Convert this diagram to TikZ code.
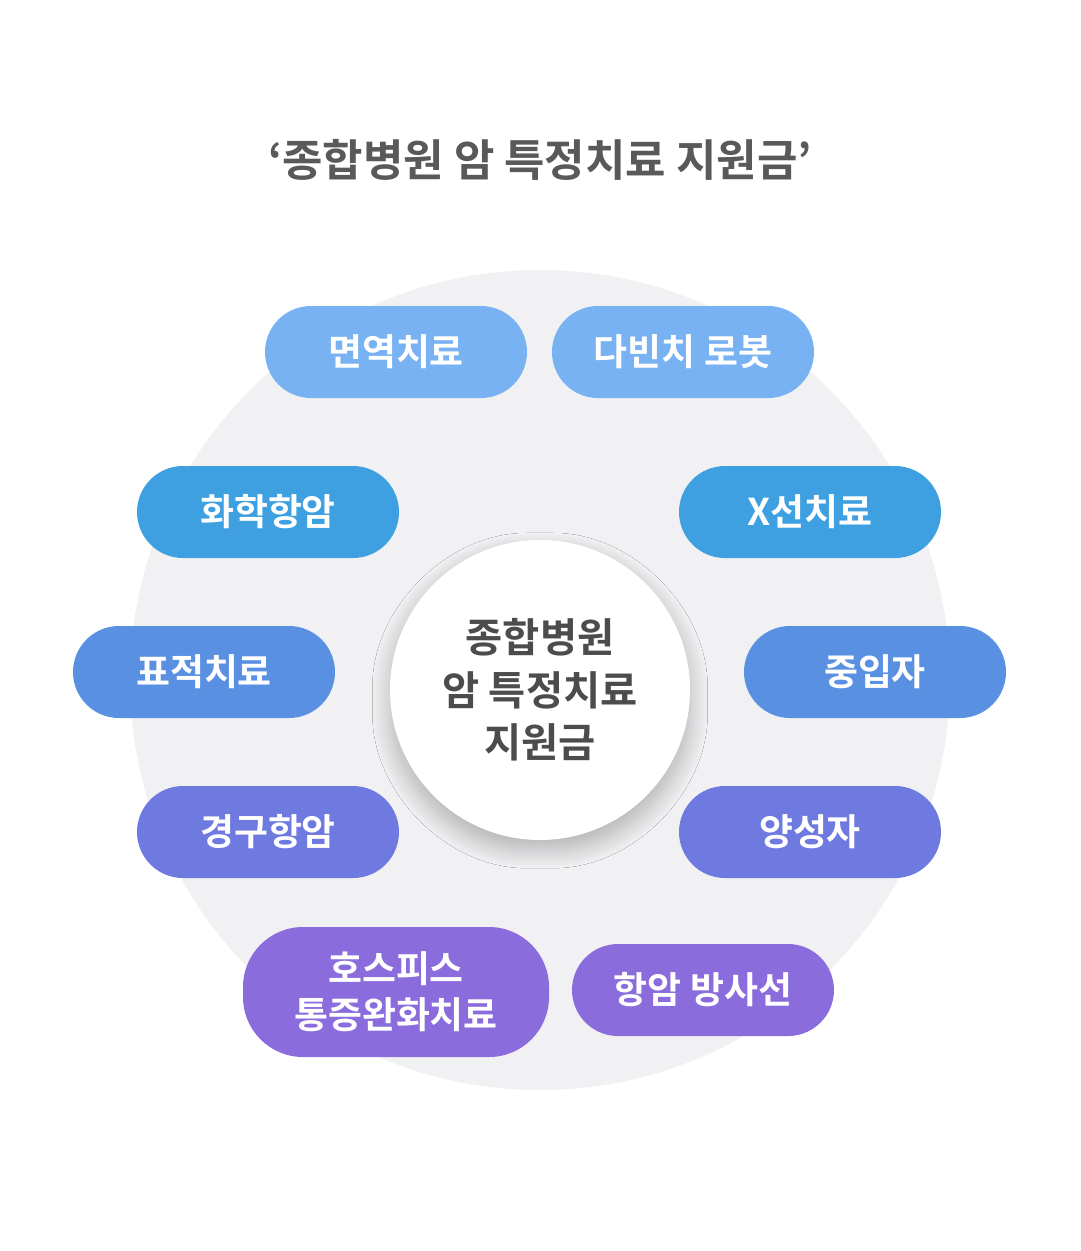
\documentclass[tikz,border=0pt]{standalone}
\usepackage{fontspec}
\newfontfamily\kr{Noto Sans CJK KR Bold}
\usetikzlibrary{shadows.blur}
\definecolor{c1}{HTML}{78B2F2}
\definecolor{c2}{HTML}{3EA0E0}
\definecolor{c3}{HTML}{5A90E2}
\definecolor{c4}{HTML}{6E7ADF}
\definecolor{c5}{HTML}{8A6CDC}
\definecolor{bg}{HTML}{F1F1F3}
\tikzset{pill/.style={rounded corners=46*0.02cm,minimum width=262*0.02cm,minimum height=92*0.02cm,text=white,font=\kr\fontsize{21}{25}\selectfont,align=center,inner sep=0pt}}
\begin{document}
\begin{tikzpicture}[x=0.02cm,y=-0.02cm]
\useasboundingbox[fill=white] (0,0) rectangle (1080,1251);
\node[font=\kr\fontsize{25}{30}\selectfont,text=black!65] (title) at (540,160) {‘종합병원 암 특정치료 지원금’};
\fill[bg] (540,680) circle (410*0.02cm);
\node[circle,fill=white,minimum size=300*0.02cm,blur shadow={shadow blur steps=14,shadow blur extra rounding=8pt,shadow xshift=0pt,shadow yshift=-6pt,shadow opacity=25,shadow blur radius=10pt},align=center,font=\kr\fontsize{23}{30}\selectfont,text=black!70] (center) at (540,690) {종합병원\\암 특정치료\\지원금};
\node[pill,fill=c1] (a) at (396,352) {면역치료};
\node[pill,fill=c1] (b) at (683,352) {다빈치 로봇};
\node[pill,fill=c2] (c) at (268,512) {화학항암};
\node[pill,fill=c2] (d) at (810,512) {X선치료};
\node[pill,fill=c3] (e) at (204,672) {표적치료};
\node[pill,fill=c3] (f) at (875,672) {중입자};
\node[pill,fill=c4] (g) at (268,832) {경구항암};
\node[pill,fill=c4] (h) at (810,832) {양성자};
\node[pill,fill=c5,minimum width=306*0.02cm,minimum height=130*0.02cm,rounded corners=60*0.02cm,font=\kr\fontsize{21}{26}\selectfont] (i) at (396,992) {호스피스\\통증완화치료};
\node[pill,fill=c5] (j) at (703,990) {항암 방사선};
\end{tikzpicture}
\end{document}
